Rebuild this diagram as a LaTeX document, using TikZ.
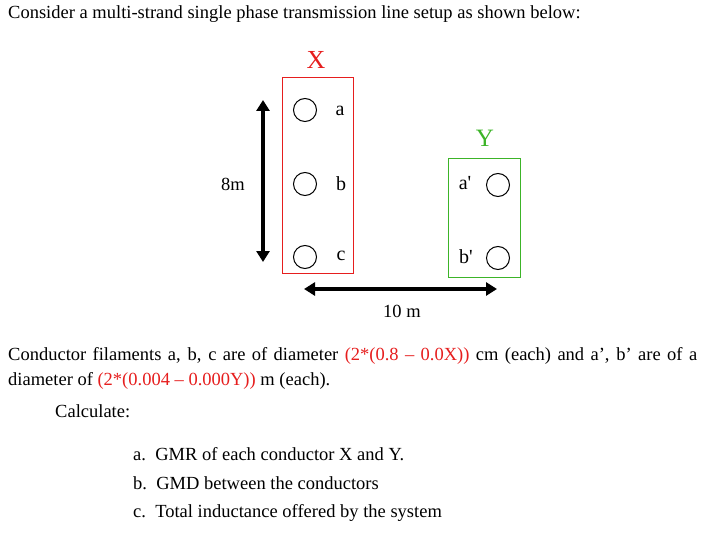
\documentclass[tikz,border=0pt]{standalone}
\usepackage{fontspec}
\setmainfont{Liberation Serif}
\usetikzlibrary{arrows.meta}
\definecolor{xred}{RGB}{230,30,30}
\definecolor{ygreen}{RGB}{60,180,40}
\tikzset{txt/.style={font=\fontsize{18.5}{22}\selectfont, inner sep=0pt},
 lbl/.style={font=\fontsize{20}{24}\selectfont, inner sep=0pt},
 cond/.style={circle,draw,line width=1pt,minimum size=23pt,inner sep=0pt},
 dimarrow/.style={line width=3.5pt,{Triangle[length=11pt,width=13pt]}-{Triangle[length=11pt,width=13pt]}}}
\begin{document}
\begin{tikzpicture}[x=1pt,y=-1pt]
\useasboundingbox (0,0) rectangle (706,537);
\node[txt,anchor=west] (t1) at (8,14) {Consider a multi-strand single phase transmission line setup as shown below:};
\node[draw=xred,line width=1.4pt,minimum width=71pt,minimum height=196pt,anchor=north west] (X) at (282,77) {};
\node[xred,font=\fontsize{26}{30}\selectfont,inner sep=0pt] (XL) at (316,60) {X};
\node[cond] (ca) at (305,110) {};
\node[cond] (cb) at (305,184) {};
\node[cond] (cc) at (305,257) {};
\node[lbl] (la) at (340,111) {a};
\node[lbl] (lb) at (341,184) {b};
\node[lbl] (lc) at (341,256) {c};
\coordinate (v1) at (263,100); \coordinate (v2) at (263,262);
\draw[dimarrow] (v1) -- (v2);
\node[txt] (l8) at (233,184) {8m};
\node[draw=ygreen,line width=1.4pt,minimum width=72pt,minimum height=119pt,anchor=north west] (Y) at (448,158) {};
\node[ygreen,font=\fontsize{25}{30}\selectfont,inner sep=0pt] (YL) at (485,138) {Y};
\node[lbl] (lap) at (465,183) {a\textquotesingle};
\node[lbl] (lbp) at (466,257) {b\textquotesingle};
\node[cond] (cap) at (498,185) {};
\node[cond] (cbp) at (498,258) {};
\coordinate (h1) at (304,289); \coordinate (h2) at (497,289);
\draw[dimarrow] (h1) -- (h2);
\node[txt] (l10) at (402,311) {10 m};
\node[txt,anchor=west] (p1) at (8,356) {\makebox[689pt][s]{Conductor filaments a, b, c are of diameter \textcolor{xred}{(2*(0.8 – 0.0X))} cm (each) and a’, b’ are of a}};
\node[txt,anchor=west] (p2) at (8,381) {diameter of \textcolor{xred}{(2*(0.004 – 0.000Y))} m (each).};
\node[txt,anchor=west] (p3) at (55,411) {Calculate:};
\node[txt,anchor=west] (i1) at (133,454) {a.\ \ GMR of each conductor X and Y.};
\node[txt,anchor=west] (i2) at (133,483) {b.\ \ GMD between the conductors};
\node[txt,anchor=west] (i3) at (133,513) {c.\ \ Total inductance offered by the system};
\end{tikzpicture}
\end{document}
